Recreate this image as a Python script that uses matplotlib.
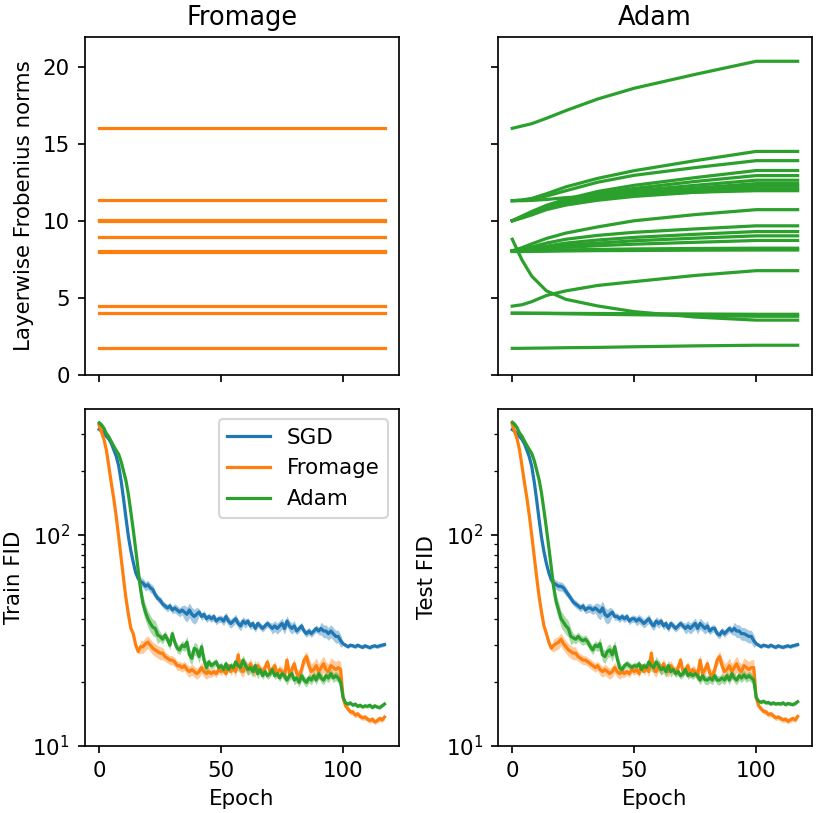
import matplotlib

matplotlib.use("Agg")
import matplotlib.pyplot as plt
import numpy as np

# ---- layer norms (top row) ----
norm_epochs = [0, 4, 8, 14, 22, 35, 50, 75, 100, 117]

# fromage keeps every layer norm fixed at its initial value
fromage_norms = [16.0, 11.32, 10.06, 10.0, 8.96, 8.04, 7.98, 4.49, 4.01, 1.74]

adam_norms = [
    [16.0, 16.15, 16.3, 16.65, 17.15, 17.9, 18.6, 19.5, 20.35, 20.35],
    [11.3, 11.35, 11.45, 11.75, 12.2, 12.75, 13.25, 13.9, 14.5, 14.5],
    [11.3, 11.33, 11.4, 11.6, 11.95, 12.5, 12.95, 13.45, 13.9, 13.9],
    [11.3, 11.3, 11.32, 11.38, 11.5, 11.62, 11.72, 11.85, 11.95, 11.95],
    [10.0, 10.3, 10.6, 11.0, 11.4, 11.9, 12.3, 12.8, 13.26, 13.26],
    [10.0, 10.28, 10.55, 10.95, 11.3, 11.75, 12.1, 12.55, 12.93, 12.93],
    [10.0, 10.25, 10.5, 10.9, 11.22, 11.6, 11.95, 12.3, 12.63, 12.63],
    [10.0, 10.22, 10.45, 10.85, 11.15, 11.5, 11.8, 12.12, 12.41, 12.41],
    [10.0, 10.2, 10.42, 10.8, 11.1, 11.42, 11.7, 12.0, 12.24, 12.24],
    [10.0, 10.18, 10.38, 10.72, 11.02, 11.33, 11.58, 11.85, 12.07, 12.07],
    [8.8, 7.45, 6.4, 5.45, 4.9, 4.47, 4.1, 3.75, 3.55, 3.55],
    [8.05, 8.25, 8.5, 8.85, 9.2, 9.6, 10.0, 10.4, 10.72, 10.72],
    [8.05, 8.15, 8.3, 8.55, 8.8, 9.05, 9.25, 9.47, 9.67, 9.67],
    [8.05, 8.1, 8.2, 8.35, 8.55, 8.75, 8.92, 9.12, 9.3, 9.3],
    [8.05, 8.08, 8.14, 8.25, 8.4, 8.55, 8.7, 8.87, 9.02, 9.02],
    [8.05, 8.06, 8.1, 8.17, 8.27, 8.38, 8.48, 8.6, 8.72, 8.72],
    [8.02, 8.03, 8.05, 8.08, 8.11, 8.14, 8.17, 8.2, 8.22, 8.22],
    [8.0, 8.0, 8.01, 8.02, 8.04, 8.06, 8.07, 8.09, 8.1, 8.1],
    [4.46, 4.55, 4.75, 5.15, 5.45, 5.8, 6.05, 6.45, 6.76, 6.76],
    [4.0, 4.0, 4.0, 4.0, 3.99, 3.98, 3.97, 3.95, 3.93, 3.93],
    [4.0, 4.0, 3.99, 3.98, 3.96, 3.93, 3.9, 3.85, 3.8, 3.8],
    [1.72, 1.72, 1.73, 1.74, 1.76, 1.78, 1.82, 1.88, 1.92, 1.92],
]

# ---- FID curves (bottom row), one value per epoch 0..117 ----
sgd_train = [
    315, 310, 300, 292, 283, 270, 252, 235, 212, 180,
    148, 120, 98, 84, 74, 66, 62, 60, 59, 57,
    58, 56, 55, 52, 50, 49, 47, 46, 45, 46,
    44, 45, 44, 43, 44, 43, 42, 44, 42, 41,
    42, 43, 41, 42, 40, 41, 40, 41, 39, 40,
    40, 39, 41, 39, 38, 39, 40, 38, 37, 39,
    38, 39, 37, 38, 36, 38, 37, 36, 37, 38,
    37, 36, 37, 36, 37, 38, 36, 39, 37, 36,
    37, 35, 36, 37, 35, 34, 35, 34, 35, 36,
    35, 36, 35, 35, 34, 35, 34, 33, 33, 31.5,
    30.5, 30, 29.5, 30, 29.8, 29.5, 30, 29.6, 29.3, 29.8,
    29.5, 29.2, 29.6, 29.8, 29.5, 29.8, 30, 30.2,
]
fromage_train = [
    330, 305, 282, 250, 210, 175, 148, 122, 98, 78,
    62, 50, 42, 36, 34, 30, 28, 29.5, 29.5, 30.5,
    31, 30, 29, 28.5, 28, 27.5, 27.5, 26.5, 26, 25.5,
    25.5, 25, 24, 24, 23.5, 24, 23, 22.5, 23, 22.5,
    22, 22.5, 23.5, 22.5, 22, 22.5, 22, 22.5, 22, 23,
    22.5, 23, 22, 24, 22.5, 23.5, 22.5, 27, 23, 22.5,
    24, 23, 24.5, 23, 22.5, 24, 23, 22.5, 23.5, 25,
    22.5, 23, 24, 22, 23, 22.5, 21.5, 25.5, 22, 23,
    24.5, 22, 21.5, 23, 25.5, 26.5, 24, 22.5, 23, 24,
    22.5, 23.5, 24.5, 23, 22.5, 24, 23.5, 23, 23.5, 23,
    17, 15.5, 15, 14.5, 14.5, 14, 14.2, 13.8, 13.6, 13.7,
    13.4, 13.2, 13.4, 13, 13.2, 13.5, 13.3, 13.7,
]
adam_train = [
    338, 330, 318, 300, 290, 275, 262, 250, 240, 222,
    200, 180, 155, 128, 105, 85, 68, 55, 47, 43,
    40, 38, 36.5, 36, 33.5, 33, 32, 33.5, 32, 30,
    34, 31, 29, 28.5, 30, 29.5, 31, 27, 26, 29,
    28.5, 26.5, 29.5, 25.5, 23.5, 25, 24, 24.5, 25, 23.5,
    24, 23, 24.5, 23, 24, 23.5, 25, 24, 23.5, 25.5,
    24, 23, 23.5, 22.5, 24, 22, 23, 21.5, 22.5, 21.5,
    22, 23, 21.5, 22, 21, 22, 21.5, 20.5, 21.5, 22,
    20.5, 21, 20, 21.5, 20.5, 20, 21, 20.5, 21.5, 20.5,
    22, 21, 20.5, 21.5, 21, 22, 21, 21.5, 21, 20,
    17, 16, 15.8, 16, 15.6, 15.8, 15.4, 15.6, 15.3, 15.5,
    15.4, 15.6, 15.2, 15.5, 15.3, 15.2, 15.5, 15.8,
]

sgd_test = [
    314, 309, 300, 291, 282, 269, 251, 233, 210, 178,
    146, 118, 97, 83, 73, 66, 61, 59, 58, 57,
    57, 56, 54, 52, 50, 48, 47, 46, 45, 46,
    44, 45, 45, 44, 45, 44, 43, 45, 42, 41,
    42, 43, 41, 41, 40, 41, 40, 41, 39, 40,
    40, 39, 40, 39, 38, 39, 40, 38, 37, 39,
    38, 39, 37, 38, 36, 38, 37, 36, 37, 38,
    37, 36, 37, 36, 37, 38, 36, 38, 37, 36,
    37, 35, 36, 36, 34, 33.5, 35, 34, 35, 36,
    35, 36, 35, 35, 34, 34, 33.5, 33, 33, 31.5,
    30.5, 30, 29.5, 30, 29.8, 29.5, 30, 29.6, 29.3, 29.8,
    29.5, 29.3, 29.6, 29.8, 29.5, 29.8, 30, 30.2,
]
fromage_test = [
    332, 306, 283, 251, 211, 176, 149, 123, 99, 79,
    63, 51, 43, 37, 34, 31, 29, 30, 30.5, 31,
    32, 30.5, 29.5, 28.5, 28, 27.5, 27.5, 26.5, 26, 25.5,
    25.5, 25, 24.5, 24, 23.5, 24, 23, 22.5, 23, 22.5,
    22, 22.5, 23.5, 22.5, 22, 22.5, 22, 22.5, 22, 23,
    22.5, 23, 22, 24, 22.5, 23.5, 22.5, 27.5, 23, 22.5,
    24, 23, 24.5, 23, 22.5, 24, 23, 22.5, 23.5, 25.5,
    22.5, 23, 24, 22, 23, 22.5, 21.5, 25.5, 22, 23,
    24.5, 22, 21.5, 23, 25.5, 26.5, 24, 22.5, 23, 24,
    22.5, 23.5, 24.5, 23, 22.5, 24, 23.5, 23, 23.5, 23.5,
    17, 15.5, 15, 14.6, 14.5, 14.1, 14.2, 13.9, 13.6, 13.7,
    13.5, 13.3, 13.4, 13.1, 13.3, 13.5, 13.3, 13.8,
]
adam_test = [
    340, 332, 320, 302, 292, 277, 264, 252, 242, 224,
    202, 182, 157, 130, 107, 87, 70, 56, 48, 44,
    40, 38.5, 37, 36, 33, 32.5, 32, 33, 32, 31.5,
    32, 31, 29.5, 28.5, 30, 29.5, 30.5, 27, 26.5, 28,
    28.5, 27, 29.5, 26, 23.5, 23, 24, 24.5, 24, 23.5,
    24, 23.8, 24.5, 23, 24, 23.5, 25, 24, 23.5, 25,
    24, 23, 23.5, 22.5, 24, 22.5, 23, 22, 22.5, 21.5,
    22, 23, 21.5, 22, 21.5, 22, 21.5, 20.5, 21.5, 20.6,
    20.5, 21, 20.5, 21.5, 20.5, 20.5, 21, 20.5, 21.5, 20.5,
    22, 21, 20.5, 21.5, 21, 21.7, 21, 21.5, 21, 20.5,
    17, 16.3, 16.1, 16.3, 16, 16.1, 15.8, 16, 15.8, 15.9,
    15.8, 16, 15.7, 15.9, 15.8, 15.7, 15.9, 16.2,
]

# spread of the runs around the mean, in percent of the value
sgd_spread = [2] * 10 + [3] * 6 + [5] * 7 + [4] * 8 + [5] * 4 + [8] * 6 + [4] * 10 \
    + [5] * 10 + [4] * 10 + [6] * 10 + [4] * 10 + [7] * 9 + [2] * 18
fromage_spread = [2] * 10 + [3] * 7 + [7] * 10 + [5] * 9 + [6] * 10 + [4] * 10 \
    + [6] * 10 + [5] * 10 + [6] * 10 + [9] * 14 + [3] * 18
adam_spread = [3] * 10 + [4] * 7 + [9] * 8 + [5] * 11 + [7] * 9 + [4] * 11 \
    + [6] * 10 + [4] * 10 + [5] * 10 + [5] * 14 + [2] * 18

labels = ["SGD", "Fromage", "Adam"]
colors = ["C0", "C1", "C2"]


def plot_fid(ax, curves, spreads):
    epochs = np.arange(len(curves[0]))
    for vals, spread, label, color in zip(curves, spreads, labels, colors):
        vals = np.array(vals, dtype=float)
        spread = np.array(spread) / 100.0
        ax.fill_between(
            epochs, vals * (1 - spread), vals * (1 + spread),
            color=color, alpha=0.4, linewidth=0,
        )
        ax.plot(epochs, vals, color=color, label=label)
    ax.set_yscale("log")
    ax.set_ylim(10, 395)
    ax.set_xlabel("Epoch")


fig, axs = plt.subplots(2, 2, sharex=True, figsize=(5.3125, 5.293), dpi=153.6)
plt.subplots_adjust(left=0.104, right=0.995, top=0.954, bottom=0.0824,
                    wspace=0.316, hspace=0.1)

# top left: fromage norms stay flat
for v in fromage_norms:
    axs[0, 0].plot([0, 117], [v, v], color="C1")
axs[0, 0].set_title("Fromage")
axs[0, 0].set_ylabel("Layerwise Frobenius norms")

# top right: adam norms drift
for line in adam_norms:
    axs[0, 1].plot(norm_epochs, line, color="C2")
axs[0, 1].set_title("Adam")

for ax in axs[0]:
    ax.set_ylim(0, 21.9)
    ax.set_yticks([0, 5, 10, 15, 20])
axs[0, 1].tick_params(labelleft=False)

plot_fid(axs[1, 0], [sgd_train, fromage_train, adam_train],
         [sgd_spread, fromage_spread, adam_spread])
axs[1, 0].set_ylabel("Train FID")
axs[1, 0].legend(loc="upper right")

plot_fid(axs[1, 1], [sgd_test, fromage_test, adam_test],
         [sgd_spread, fromage_spread, adam_spread])
axs[1, 1].set_ylabel("Test FID")

axs[1, 0].set_xticks([0, 50, 100])

fig.savefig("out.png", dpi=153.6)
plt.close()
